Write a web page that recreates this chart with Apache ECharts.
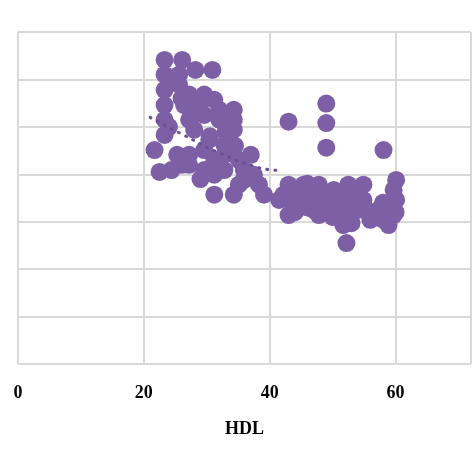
<!DOCTYPE html>
<html>
<head>
<meta charset="utf-8" />
<script src="https://cdn.jsdelivr.net/npm/echarts@6/dist/echarts.min.js"></script>
<style>html,body{margin:0;padding:0;background:#fff;}</style>
</head>
<body>
<div id="main" style="width:474px;height:474px;"></div>
<script type="text/javascript">
var hdlValues = [
  23.3,26.1,23.3,25.6,28.2,30.9,23.3,25.6,27.2,29.6,23.3,26.4,28.8,31.2,32,34.3,
  23.3,27.2,29.6,32,34.3,23.3,28,30.4,32.8,34.3,21.7,25.3,27.2,29.6,31.2,32.8,
  22.5,24.4,27.2,29.6,31.2,32.8,35.1,37,31.2,34.3,35.9,35.9,37.5,38.3,39.1,35.1,
  43,43,43,45.4,45.4,47,47.8,48.6,50.2,50.9,51.7,52.5,53.3,54.9,54.9,49.4,43.8,
  57.3,58.1,59.7,60.1,60.1,59.7,58.9,42.2,46.2,54.1,56,51.7,47.8,41.5,
  43,49,49,49,58.1,52.2,53,
  44,46,48,50,52,54,44,50,55,59,60,58,46,48.5,52.5,
  24,26,28,24.5,30.5,33,34.5,36,29,26
];
var yValues = [
  6.41,6.41,6.1,6.1,6.2,6.2,5.78,5.89,5.68,5.68,5.46,5.46,5.46,5.57,5.36,5.36,
  5.15,5.15,5.25,5.15,5.15,4.83,4.94,4.73,4.62,4.94,4.51,4.41,4.41,4.51,4.3,4.41,
  4.05,4.09,4.2,4.09,3.99,4.09,4.3,4.41,3.57,3.57,3.88,4.09,3.99,3.78,3.57,3.78,
  3.78,3.46,3.14,3.78,3.46,3.25,3.78,3.46,3.67,3.35,3.14,3.78,3.46,3.78,3.46,3.21,3.25,
  3.25,3.04,3.14,3.46,3.88,3.67,2.93,3.57,3.57,3.25,3.04,2.93,3.14,3.46,
  5.11,5.49,5.08,4.56,4.51,2.55,2.97,
  3.6,3.3,3.6,3.3,3.5,3.6,3.2,3.1,3.3,3.3,3.2,3.4,3.8,3.2,3.2,
  5.0,5.6,5.3,6.0,4.8,4.9,4.6,3.9,3.9,4.2
];
var trendX = [21, 26, 32, 38, 41.5];
var trendY = [5.2, 4.85, 4.45, 4.15, 4.08];
var xTicks = [0, 20, 40, 60];

var points = hdlValues.map(function (v, i) { return [v, yValues[i]]; });
var trend = trendX.map(function (v, i) { return [v, trendY[i]]; });

var myChart = echarts.init(document.getElementById('main'));
var option = {
  animation: false,
  grid: { left: 18, right: 1, top: 32, bottom: 110 },
  xAxis: {
    type: 'value', min: 0, max: 72, interval: 20,
    name: 'HDL', nameLocation: 'middle', nameGap: 56,
    nameTextStyle: { fontFamily: 'Liberation Serif', fontWeight: 'bold', fontSize: 18, color: '#000' },
    axisLine: { show: false }, axisTick: { show: false },
    axisLabel: {
      margin: 20, fontFamily: 'Liberation Serif', fontWeight: 'bold', fontSize: 18, color: '#000',
      formatter: function (v) { return xTicks.indexOf(v) >= 0 ? String(v) : ''; }
    },
    splitLine: { lineStyle: { color: '#d9d9d9', width: 2 } }
  },
  yAxis: {
    type: 'value', min: 0, max: 7, interval: 1,
    axisLine: { show: false }, axisTick: { show: false }, axisLabel: { show: false },
    splitLine: { lineStyle: { color: '#d9d9d9', width: 2 } }
  },
  series: [
    {
      type: 'scatter', data: points, symbolSize: 18,
      itemStyle: { color: '#7d5fa6', opacity: 1 }
    },
    {
      type: 'line', data: trend, smooth: true, symbol: 'none',
      lineStyle: { color: '#6b4f96', width: 3, type: [1, 7], cap: 'round' },
      z: 3
    }
  ]
};
myChart.setOption(option);
</script>
</body>
</html>
